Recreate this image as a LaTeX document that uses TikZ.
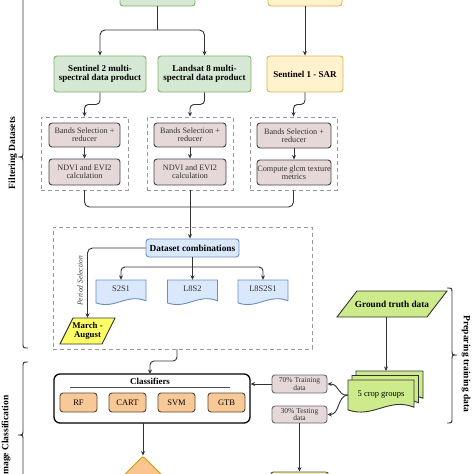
\documentclass[tikz,border=0pt]{standalone}
\usepackage{fontspec}
\setmainfont{Liberation Serif}
\usetikzlibrary{arrows.meta,shapes.geometric}
\definecolor{gfill}{HTML}{D5E8D4}
\definecolor{gdraw}{HTML}{82B366}
\definecolor{yfill}{HTML}{FFF2CC}
\definecolor{ydraw}{HTML}{D6B656}
\definecolor{pfill}{HTML}{E6D8D8}
\definecolor{pdraw}{HTML}{444444}
\definecolor{bfill}{HTML}{DAE8FC}
\definecolor{bdraw}{HTML}{6C8EBF}
\definecolor{mfill}{HTML}{FFFF66}
\definecolor{ofill}{HTML}{F9C897}
\definecolor{odraw}{HTML}{5A4632}
\definecolor{dfill}{HTML}{FBC58F}
\definecolor{ddraw}{HTML}{D79B00}
\definecolor{lgfill}{HTML}{CDEB8B}
\definecolor{botfill}{HTML}{EEF3A8}
\definecolor{lc}{HTML}{333333}
\definecolor{dashc}{HTML}{999999}
\newcommand{\docshape}[5]{%
  \filldraw[#1] (#2,#3) -- ({#2+#4},#3) -- ({#2+#4},{#3+0.8*#5})
    .. controls ({#2+0.62*#4},{#3+0.5*#5}) and ({#2+0.38*#4},{#3+1.14*#5}) ..
    (#2,{#3+0.88*#5}) -- cycle;}
\begin{document}
\begin{tikzpicture}[x=1pt,y=-1pt,
  lin/.style={draw=lc, line width=0.9pt},
  conn/.style={lin, -{Stealth[length=4.5pt,width=4pt]}},
  boxbase/.style={rounded corners=3pt, line width=0.9pt, inner sep=0pt, align=center},
  greenbox/.style={boxbase, fill=gfill, draw=gdraw, font={\fontsize{9}{9.5}\selectfont\bfseries}},
  yellowbox/.style={boxbase, fill=yfill, draw=ydraw, font={\fontsize{9}{9.5}\selectfont\bfseries}},
  pinkbox/.style={boxbase, fill=pfill, draw=pdraw, text=black!80, font={\fontsize{8.2}{8.2}\selectfont}},
  grp/.style={draw=dashc, line width=0.9pt, dash pattern=on 4pt off 3pt},
  bluebox/.style={boxbase, fill=bfill, draw=bdraw, font={\fontsize{9.3}{9.5}\selectfont\bfseries}},
  docst/.style={fill=bfill, draw=bdraw, line width=0.9pt},
  doctext/.style={inner sep=0pt, font={\fontsize{8.5}{8.5}\selectfont}, text=black!80},
  orangebox/.style={boxbase, fill=ofill, draw=odraw, font={\fontsize{8.5}{8.5}\selectfont}, minimum width=37pt, minimum height=19pt},
  smallbox/.style={boxbase, fill=pfill, draw=pdraw!80, text=black!80, font={\fontsize{7.5}{7.5}\selectfont}, minimum width=55pt},
  lbl/.style={font={\fontsize{9.5}{9.5}\selectfont\bfseries}, inner sep=0pt}
]
\useasboundingbox (0,0) rectangle (474,474);
\clip (0,0) rectangle (474,474);

% top boxes (cut off)
\node[greenbox, minimum width=75pt, minimum height=26pt] (topg) at (157.5,-7) {};
\node[yellowbox, minimum width=74pt, minimum height=26pt] (topy) at (305,-7) {};

% sources
\node[greenbox, minimum width=92pt, minimum height=36pt] (s2) at (100,74) {Sentinel 2 multi-\\spectral data product};
\node[greenbox, minimum width=93pt, minimum height=36pt] (l8) at (204.5,74) {Landsat 8 multi-\\spectral data product};
\node[yellowbox, minimum width=76pt, minimum height=36pt] (s1) at (305,74) {Sentinel 1 - SAR};

% dashed groups
\node[grp, minimum width=87pt, minimum height=73pt] (g1) at (84.5,153.5) {};
\node[grp, minimum width=86pt, minimum height=73pt] (g2) at (190,153.5) {};
\node[grp, minimum width=87pt, minimum height=73pt] (g3) at (293.5,153.5) {};

\node[pinkbox, minimum width=71pt, minimum height=24pt] (b1) at (84.5,135) {Bands Selection +\\reducer};
\node[pinkbox, minimum width=71pt, minimum height=26pt] (n1) at (84.5,172) {NDVI and EVI2\\calculation};
\node[pinkbox, minimum width=72pt, minimum height=24pt] (b2) at (190,135) {Bands Selection +\\reducer};
\node[pinkbox, minimum width=72pt, minimum height=26pt] (n2) at (190,172) {NDVI and EVI2\\calculation};
\node[pinkbox, minimum width=74pt, minimum height=25pt] (b3) at (294,135.5) {Bands Selection +\\reducer};
\node[pinkbox, minimum width=74pt, minimum height=25pt] (n3) at (294,172.5) {Compute glcm texture\\metrics};

% big dashed group
\node[grp, minimum width=259pt, minimum height=122pt] (big) at (182.5,288) {};
\node[bluebox, minimum width=93pt, minimum height=18pt] (dc) at (192.5,248) {Dataset combinations};

\docshape{docst}{96}{280}{50}{26}
\docshape{docst}{167.5}{280}{50}{26}
\docshape{docst}{238}{280}{50}{26}
\node[doctext, minimum width=50pt, minimum height=18pt] (d1) at (121,289) {S2S1};
\node[doctext, minimum width=50pt, minimum height=18pt] (d2) at (192.5,289) {L8S2};
\node[doctext, minimum width=50pt, minimum height=18pt] (d3) at (263,289) {L8S2S1};

% March - August
\filldraw[fill=mfill, draw=lc, line width=0.9pt] (73,318) -- (115,318) -- (102,344) -- (60,344) -- cycle;
\node[inner sep=0pt, minimum height=26pt, align=center, font={\fontsize{8.8}{9.5}\selectfont\bfseries}] (march) at (87.5,331) {March -\\August};
\node[rotate=90, inner sep=0pt, font={\fontsize{7.5}{7.5}\selectfont\itshape}, text=black!75] (per) at (80,281) {Period Selection};

% classifiers
\node[boxbase, draw=black, line width=1.3pt, rounded corners=6pt, fill=white, minimum width=196pt, minimum height=49pt] (cls) at (152,398.5) {};
\node[lbl, font={\fontsize{9}{9}\selectfont\bfseries}] (clst) at (150,381) {Classifiers};
\coordinate (ul1) at (70,387.5);
\coordinate (ul2) at (230,387.5);
\draw[draw=black!70, line width=0.7pt] (ul1) -- (ul2);
\node[orangebox] (rf) at (78.5,402.5) {RF};
\node[orangebox] (cart) at (127.5,402.5) {CART};
\node[orangebox] (svm) at (176.5,402.5) {SVM};
\node[orangebox] (gtb) at (226.5,402.5) {GTB};

% diamond
\node[diamond, aspect=1, inner sep=0pt, minimum width=62pt, minimum height=62pt, fill=dfill, draw=ddraw, line width=0.9pt, rounded corners=2pt] (diam) at (143,487) {};

% training / testing
\node[smallbox, minimum height=18pt] (train) at (299.5,384) {70\% Training\\data};
\node[smallbox, minimum height=17pt] (test) at (299.5,414.5) {30\% Testing\\data};
\node[boxbase, fill=botfill, draw=black!70, minimum width=58pt, minimum height=24pt] (bot) at (299.5,484) {};

% ground truth
\filldraw[fill=lgfill, draw=lc, line width=0.9pt] (357,291) -- (447,291) -- (427,317) -- (337,317) -- cycle;
\node[inner sep=0pt, minimum height=26pt, font={\fontsize{9.3}{9.5}\selectfont\bfseries}] (gt) at (392,304) {Ground truth data};

% crop groups (multi document)
\docshape{fill=lgfill, draw=lc, line width=0.9pt}{356}{371}{67}{34}
\docshape{fill=lgfill, draw=lc, line width=0.9pt}{352}{375.5}{66.5}{34}
\docshape{fill=lgfill, draw=lc, line width=0.9pt}{348}{380}{66}{34}
\node[inner sep=0pt, minimum width=66pt, minimum height=26pt, font={\fontsize{8.5}{8.5}\selectfont}] (crop) at (381,395) {5 crop groups};

% braces and side labels
\draw[lin] (28,-34) .. controls (23,-34) .. (23,-29) -- (23,152) .. controls (23,157) .. (18,157)
  .. controls (23,157) .. (23,162) -- (23,343) .. controls (23,348) .. (28,348);
\node[lbl, rotate=90] (fd) at (13,153) {Filtering Datasets};
\draw[lin] (28,362) .. controls (23,362) .. (23,367) -- (23,430) .. controls (23,435) .. (18,435)
  .. controls (23,435) .. (23,440) -- (23,503) .. controls (23,508) .. (28,508);
\node[lbl, rotate=90] (ic) at (6,437) {Image Classification};
\draw[lin] (447,288) .. controls (452,288) .. (452,293) -- (452,350) .. controls (452,355) .. (457,355)
  .. controls (452,355) .. (452,360) -- (452,418) .. controls (452,423) .. (447,423);
\node[lbl, rotate=-90] (pt) at (466,364) {Preparing training data};

% connectors
\coordinate (jtop) at (157.5,30);
\draw[lin, rounded corners=5pt] (topg.south) -- (jtop);
\draw[conn, rounded corners=5pt] (jtop) -| (s2.north);
\draw[conn, rounded corners=5pt] (jtop) -| (l8.north);
\draw[conn] (topy.south) -- (s1.north);
\draw[conn, rounded corners=4pt] (s2.south) -- ++(0,12) -| (g1.north);
\draw[conn, rounded corners=4pt] (l8.south) -- ++(0,12) -| (g2.north);
\draw[conn, rounded corners=4pt] (s1.south) -- ++(0,12) -| (g3.north);
\draw[conn] (b1) -- (n1);
\draw[conn] (b2) -- (n2);
\draw[conn] (b3) -- (n3);
\coordinate (jmid) at (190,207);
\draw[lin, rounded corners=5pt] (g1.south) |- (jmid);
\draw[lin, rounded corners=5pt] (g3.south) |- (jmid);
\draw[conn] (g2.south) -- (g2.south |- dc.north);
\coordinate (jdoc) at (192.5,267);
\draw[lin] (dc.south) -- (jdoc);
\draw[conn, rounded corners=4pt] (jdoc) -| (d1.north);
\draw[conn, rounded corners=4pt] (jdoc) -| (d3.north);
\draw[conn] (jdoc) -- (d2.north);
\draw[conn, rounded corners=5pt] (dc.west) -| (march.north);
\coordinate (bigout) at (177,349);
\coordinate (clsin) at (150,374);
\draw[conn, rounded corners=4pt] (bigout) -- ++(0,12) -| (clsin);
\coordinate (clsout) at (143,423);
\draw[conn] (clsout) -- (diam.north);
\draw[conn] (train.west) -- (train.west -| cls.east);
\draw[conn] (test.south) -- (test.south |- bot.north);
\coordinate (gtout) at (386,317);
\coordinate (cropin) at (386,371);
\draw[conn] (gtout) -- (cropin);
\draw[conn] (crop.west) .. controls (337,396) and (340,384) .. (train.east);
\draw[conn] (crop.west) .. controls (337,396) and (340,414.5) .. (test.east);
\end{tikzpicture}
\end{document}
